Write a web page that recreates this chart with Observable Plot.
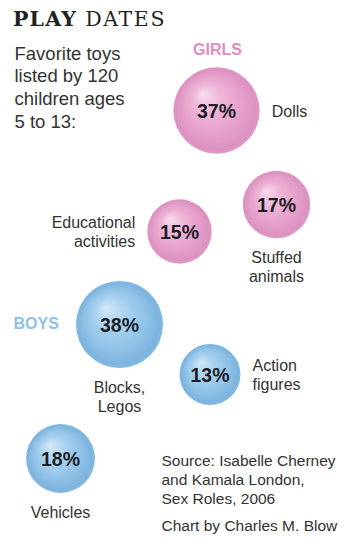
<!DOCTYPE html>
<html><head><meta charset="utf-8">
<script src="https://cdn.jsdelivr.net/npm/d3@7"></script>
<script src="https://cdn.jsdelivr.net/npm/@observablehq/plot@0.6"></script>
<style>
body{margin:0;background:#fff;}
#wrap{width:350px;height:542px;overflow:hidden;background:#fff;}
#title{box-sizing:border-box;height:32px;padding:9px 0 0 13px;font-family:"DejaVu Serif",serif;font-size:20.5px;line-height:1;color:#222;letter-spacing:1.6px;white-space:nowrap;}
#title b{font-weight:900;letter-spacing:1.2px;}
#chart svg{display:block;}
</style></head><body>
<div id="wrap">
  <div id="title"><b>PLAY</b> DATES</div>
  <div id="chart"></div>
</div>
<script>
// ---- data ----
const categories = ["Dolls", "Educational\nactivities", "Stuffed\nanimals", "Blocks,\nLegos", "Action\nfigures", "Vehicles"];
const groups = ["Girls", "Girls", "Girls", "Boys", "Boys", "Boys"];
const percents = [37, 15, 17, 38, 13, 18];
const groupLabels = ["GIRLS", "BOYS"];
const subtitle = "Favorite toys\nlisted by 120\nchildren ages\n5 to 13:";
const sourceText = "Source: Isabelle Cherney\nand Kamala London,\nSex Roles, 2006";
const credit = "Chart by Charles M. Blow";

// ---- layout (page coordinates of bubble centers, label sides) ----
const layoutX = [216, 179, 276, 119, 209.5, 60];
const layoutY = [110, 231, 204, 324, 374, 458];
const labelSide = ["right", "left", "below", "below", "right", "below"];

const rDomain = [13, 38], rRange = [30.5, 43.5];
const rFn = d3.scaleLog(rDomain, rRange);

const bubbles = categories.map((c, i) => ({
  category: c, group: groups[i], pct: percents[i],
  x: layoutX[i], y: layoutY[i], side: labelSide[i]
}));
const labels = bubbles.map(b => {
  const r = rFn(b.pct);
  if (b.side === "right") return {...b, lx: b.x + r + 12, ly: b.y};
  if (b.side === "left") return {...b, lx: b.x - r - 12, ly: b.y};
  return {...b, lx: b.x, ly: b.y + r + 11};
});

const W = 350, H = 510, top0 = 32;
const sans = "'Liberation Sans', Arial, Helvetica, sans-serif";

const plot = Plot.plot({
  width: W, height: H,
  margin: 0,
  x: {domain: [0, W], range: [0, W], axis: null},
  y: {domain: [top0, top0 + H], range: [0, H], axis: null},
  r: {type: "log", domain: rDomain, range: rRange},
  style: {fontFamily: sans, background: "#fff"},
  marks: [
    Plot.dot(bubbles.filter(d => d.group === "Girls"), {x: "x", y: "y", r: "pct", fill: "url(#sphereGirls)", stroke: "none"}),
    Plot.dot(bubbles.filter(d => d.group === "Boys"), {x: "x", y: "y", r: "pct", fill: "url(#sphereBoys)", stroke: "none"}),
    Plot.text(bubbles, {x: "x", y: "y", text: d => d.pct + "%", fontSize: 19.5, fontWeight: "bold", fill: "#1d1d26", dy: 1}),
    Plot.text(labels.filter(d => d.side === "right"), {x: "lx", y: "ly", text: "category", textAnchor: "start", lineAnchor: "middle", fontSize: 16, lineHeight: 1.2, fill: "#333"}),
    Plot.text(labels.filter(d => d.side === "left"), {x: "lx", y: "ly", text: "category", textAnchor: "end", lineAnchor: "middle", fontSize: 16, lineHeight: 1.2, fill: "#333"}),
    Plot.text(labels.filter(d => d.side === "below"), {x: "lx", y: "ly", text: "category", textAnchor: "middle", lineAnchor: "top", fontSize: 16, lineHeight: 1.2, fill: "#333"}),
    Plot.text([subtitle], {x: 14, y: 43, text: d => d, textAnchor: "start", lineAnchor: "top", fontSize: 18.5, lineHeight: 1.23, fill: "#333"}),
    Plot.text([groupLabels[0]], {x: 217, y: 49, text: d => d, textAnchor: "middle", fontSize: 16, fontWeight: "bold", fill: "#e38cc0"}),
    Plot.text([groupLabels[1]], {x: 13, y: 323, text: d => d, textAnchor: "start", fontSize: 16, fontWeight: "bold", fill: "#8fc2e6"}),
    Plot.text([sourceText], {x: 161, y: 452, text: d => d, textAnchor: "start", lineAnchor: "top", fontSize: 15.5, lineHeight: 1.22, fill: "#333"}),
    Plot.text([credit], {x: 161, y: 519, text: d => d, textAnchor: "start", lineAnchor: "top", fontSize: 15.5, fill: "#333"})
  ]
});

const defs = d3.select(plot).insert("defs", ":first-child");
function sphere(id, stops) {
  const g = defs.append("radialGradient").attr("id", id)
    .attr("cx", "50%").attr("cy", "50%").attr("r", "50%")
    .attr("fx", "34%").attr("fy", "30%");
  stops.forEach(([o, c]) => g.append("stop").attr("offset", o).attr("stop-color", c));
}
sphere("sphereGirls", [[0, "#f7dbec"], [0.35, "#eeb4d6"], [0.72, "#e49ec9"], [0.93, "#dc92c0"], [1, "#df9ac5"]]);
sphere("sphereBoys", [[0, "#d3e9f7"], [0.35, "#a9d2ef"], [0.72, "#8ec1e6"], [0.93, "#7db3dd"], [1, "#84b9e1"]]);

document.getElementById("chart").appendChild(plot);
</script>
</body></html>
